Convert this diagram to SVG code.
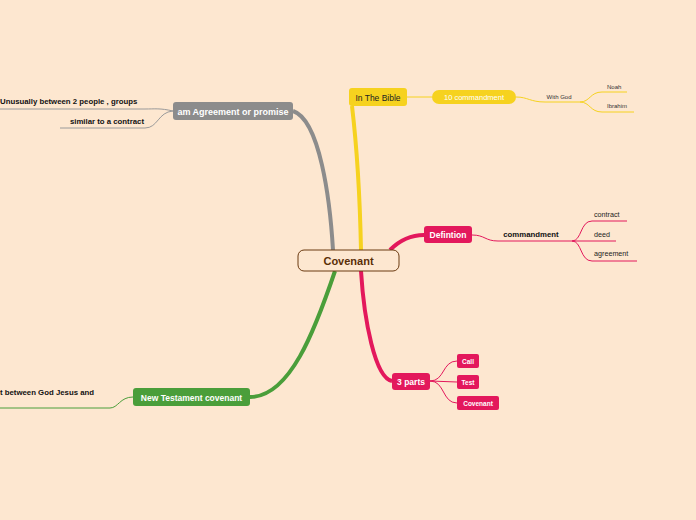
<svg xmlns="http://www.w3.org/2000/svg" width="696" height="520" viewBox="0 0 696 520">
<style>
text{font-family:"Liberation Sans",Arial,sans-serif}
.b{font-weight:bold}
.w{fill:#fff}
.thin{fill:none;stroke-width:1}
</style>
<rect width="696" height="520" fill="#fde7d0"/>
<g id="connectors" fill="none">
<path d="M333,250 C330,200 320,120 293,111" stroke="#8c8c8c" stroke-width="4"/>
<path d="M361,250 C360,200 356,140 352,106" stroke="#f6d21f" stroke-width="4"/>
<path d="M390,250 C400,240 410,235 424,235" stroke="#e3185c" stroke-width="4"/>
<path d="M361,271 C364,320 375,378 392,381" stroke="#e3185c" stroke-width="4"/>
<path d="M335,271 C315,330 290,397 250,397" stroke="#4a9e3a" stroke-width="4"/>
<path class="thin" stroke="#9a9a9a" d="M173,111 C160,108 155,109 145,109 L0,109"/>
<path class="thin" stroke="#9a9a9a" d="M173,111 C158,112 158,128 145,128 L60,128"/>
<path class="thin" stroke="#f6d21f" d="M407,97 L432,97"/>
<path class="thin" stroke="#f6d21f" d="M516,97 C528,97 530,102 545,102 L580,102"/>
<path class="thin" stroke="#f6d21f" d="M580,102 C590,102 590,92 602,92 L627,92"/>
<path class="thin" stroke="#f6d21f" d="M580,102 C590,102 590,112 602,112 L634,112"/>
<path class="thin" stroke="#e3185c" d="M472,235 C485,235 485,241 498,241 L572,241"/>
<path class="thin" stroke="#e3185c" d="M572,241 C582,241 580,221 592,221 L627,221"/>
<path class="thin" stroke="#e3185c" d="M572,241 L616,241"/>
<path class="thin" stroke="#e3185c" d="M572,241 C582,241 580,261 592,261 L637,261"/>
<path class="thin" stroke="#e3185c" d="M430,381 C445,381 442,361 457,361"/>
<path class="thin" stroke="#e3185c" d="M430,381 L457,382"/>
<path class="thin" stroke="#e3185c" d="M430,381 C445,381 442,403 457,403"/>
<path class="thin" stroke="#4a9e3a" d="M133,397 C120,397 118,408 110,408 L0,408"/>
</g>
<g id="center"><rect x="298" y="250" width="101" height="21" rx="6" fill="#fde7d0" stroke="#6b3a10"/><text x="348.5" y="265" text-anchor="middle" class="b" font-size="11" fill="#5a2e08">Covenant</text></g>
<g id="bible"><rect x="349" y="88" width="58" height="18" rx="3" fill="#f6d21f"/><text x="378" y="100.5" text-anchor="middle" font-size="8.5" fill="#222">In The Bible</text></g>
<g id="cmd10"><rect x="432" y="90" width="84" height="14" rx="7" fill="#f6d21f"/><text x="474" y="100" text-anchor="middle" font-size="7.5" class="w">10 commandment</text></g>
<g id="withgod"><text x="559" y="98.5" text-anchor="middle" font-size="6" fill="#333">With God</text></g>
<g id="noah"><text x="607" y="89" font-size="6" fill="#333">Noah</text></g>
<g id="ibrahim"><text x="607" y="108" font-size="6" fill="#333">Ibrahim</text></g>
<g id="agree"><rect x="173" y="102" width="120" height="18" rx="3" fill="#8c8c8c"/><text x="233" y="114.5" text-anchor="middle" font-size="9" class="b w">am Agreement or promise</text></g>
<g id="unusually"><text x="0" y="104" font-size="7.8" class="b" fill="#111">Unusually between 2 people , groups</text></g>
<g id="similar"><text x="144" y="124" text-anchor="end" font-size="7.8" class="b" fill="#111">similar to a contract</text></g>
<g id="def"><rect x="424" y="226" width="48" height="17" rx="3" fill="#e3185c"/><text x="448" y="237.5" text-anchor="middle" font-size="8.5" class="b w">Defintion</text></g>
<g id="commandment"><text x="531" y="237" text-anchor="middle" font-size="7.8" class="b" fill="#111">commandment</text></g>
<g id="contract"><text x="594" y="217" font-size="7.2" fill="#222">contract</text></g>
<g id="deed"><text x="594" y="237" font-size="7.2" fill="#222">deed</text></g>
<g id="agreement"><text x="594" y="256" font-size="7.2" fill="#222">agreement</text></g>
<g id="parts"><rect x="392" y="373" width="38" height="17" rx="3" fill="#e3185c"/><text x="411" y="385" text-anchor="middle" font-size="8.5" class="b w">3 parts</text></g>
<g id="call"><rect x="457" y="354" width="22" height="14" rx="2" fill="#e3185c"/><text x="468" y="363.5" text-anchor="middle" font-size="6.5" class="b w">Call</text></g>
<g id="test"><rect x="457" y="375" width="22" height="14" rx="2" fill="#e3185c"/><text x="468" y="384.5" text-anchor="middle" font-size="6.5" class="b w">Test</text></g>
<g id="covn"><rect x="457" y="396" width="42" height="14" rx="2" fill="#e3185c"/><text x="478" y="405.5" text-anchor="middle" font-size="6.5" class="b w">Covenant</text></g>
<g id="nt"><rect x="133" y="388" width="117" height="18" rx="3" fill="#4a9e3a"/><text x="191.5" y="400.5" text-anchor="middle" font-size="8.5" class="b w">New Testament covenant</text></g>
<g id="between"><text x="0" y="395" font-size="7.8" class="b" fill="#111">t between God Jesus and</text></g>
</svg>
